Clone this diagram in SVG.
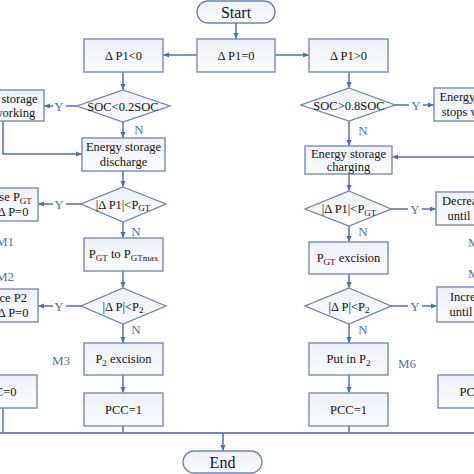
<svg xmlns="http://www.w3.org/2000/svg" width="474" height="474" viewBox="0 0 474 474">
<defs>
<linearGradient id="g" x1="0" y1="0" x2="0" y2="1">
<stop offset="0" stop-color="#eef1f8"/>
<stop offset="1" stop-color="#fbfcfe"/>
</linearGradient>
<marker id="a" viewBox="0 0 8 8" refX="7.5" refY="4" markerWidth="6" markerHeight="6" orient="auto" markerUnits="userSpaceOnUse">
<path d="M0,0.5 L8,4 L0,7.5 z" fill="#4f6fb3"/>
</marker>
<style>
.b{fill:url(#g);stroke:#6f82b3;stroke-width:1.3}
.t{font-family:"Liberation Serif","Times New Roman",serif;font-size:12.5px;fill:#151515;text-anchor:middle}
.big{font-size:16px}
.l{font-family:"Liberation Serif","Times New Roman",serif;font-size:13px;fill:#4f72b8;text-anchor:middle}
.c{stroke:#4f6fb3;stroke-width:1.5;fill:none}
.bus{stroke:#6c87bd;stroke-width:2;fill:none}
</style>
</defs>
<rect width="474" height="474" fill="#fff"/>
<g id="connectors">
<line class="c" x1="236" y1="23" x2="236" y2="38.5" marker-end="url(#a)"/>
<line class="c" x1="197" y1="55" x2="163.5" y2="55" marker-end="url(#a)"/>
<line class="c" x1="275" y1="55" x2="308.5" y2="55" marker-end="url(#a)"/>
<line class="c" x1="123" y1="72" x2="123" y2="89.5" marker-end="url(#a)"/>
<line class="c" x1="349" y1="72" x2="349" y2="87.5" marker-end="url(#a)"/>
<polyline class="c" points="77,106 66,106"/>
<line class="c" x1="53" y1="106" x2="44.5" y2="106" marker-end="url(#a)"/>
<path class="c" d="M3,121 V154 H81.5" marker-end="url(#a)"/>
<line class="c" x1="123" y1="122" x2="123" y2="137.5" marker-end="url(#a)"/>
<line class="c" x1="123" y1="171" x2="123" y2="186.5" marker-end="url(#a)"/>
<line class="c" x1="81" y1="204" x2="66" y2="204"/>
<line class="c" x1="53" y1="204" x2="38.5" y2="204" marker-end="url(#a)"/>
<line class="c" x1="123" y1="222" x2="123" y2="237.5" marker-end="url(#a)"/>
<line class="c" x1="123" y1="271" x2="123" y2="287.5" marker-end="url(#a)"/>
<line class="c" x1="81" y1="306" x2="66" y2="306"/>
<line class="c" x1="53" y1="306" x2="38.5" y2="306" marker-end="url(#a)"/>
<line class="c" x1="123" y1="324" x2="123" y2="342.5" marker-end="url(#a)"/>
<line class="c" x1="123" y1="375" x2="123" y2="392.5" marker-end="url(#a)"/>
<line class="c" x1="123" y1="426" x2="123" y2="433"/>
<line class="c" x1="3" y1="408" x2="3" y2="433"/>
<line class="c" x1="395" y1="105" x2="409" y2="105"/>
<line class="c" x1="423" y1="105" x2="433.5" y2="105" marker-end="url(#a)"/>
<path class="c" d="M500,121 V157 H392.5" marker-end="url(#a)"/>
<line class="c" x1="349" y1="121" x2="349" y2="145.5" marker-end="url(#a)"/>
<line class="c" x1="349" y1="174" x2="349" y2="190.5" marker-end="url(#a)"/>
<line class="c" x1="391" y1="209" x2="408" y2="209"/>
<line class="c" x1="422" y1="209" x2="435.5" y2="209" marker-end="url(#a)"/>
<line class="c" x1="349" y1="226" x2="349" y2="241.5" marker-end="url(#a)"/>
<line class="c" x1="349" y1="274" x2="349" y2="287.5" marker-end="url(#a)"/>
<line class="c" x1="391" y1="306" x2="408" y2="306"/>
<line class="c" x1="422" y1="306" x2="436.5" y2="306" marker-end="url(#a)"/>
<line class="c" x1="349" y1="324" x2="349" y2="342.5" marker-end="url(#a)"/>
<line class="c" x1="349" y1="375" x2="349" y2="392.5" marker-end="url(#a)"/>
<line class="c" x1="349" y1="426" x2="349" y2="433"/>
<line class="bus" x1="0" y1="433" x2="474" y2="433"/>
<line class="c" x1="223" y1="433" x2="223" y2="450.5" marker-end="url(#a)"/>
<text class="l" x="59" y="110.5">Y</text>
<text class="l" x="139" y="134">N</text>
<text class="l" x="59" y="208.5">Y</text>
<text class="l" x="136" y="236">N</text>
<text class="l" x="59" y="310.5">Y</text>
<text class="l" x="136" y="334">N</text>
<text class="l" x="416" y="109.5">Y</text>
<text class="l" x="363" y="135">N</text>
<text class="l" x="415" y="213.5">Y</text>
<text class="l" x="363" y="236">N</text>
<text class="l" x="415" y="310.5">Y</text>
<text class="l" x="363" y="334">N</text>
</g>
<g id="start"><rect class="b" x="197" y="1" width="78" height="22" rx="11"/><text class="t big" x="236" y="18">Start</text></g>
<g id="dp1eq0"><rect class="b" x="197" y="39" width="78" height="33"/><text class="t" x="236" y="60">Δ P1=0</text></g>
<g id="dp1lt0"><rect class="b" x="84" y="39" width="79" height="33"/><text class="t" x="123.5" y="60">Δ P1&lt;0</text></g>
<g id="dp1gt0"><rect class="b" x="309" y="39" width="79" height="33"/><text class="t" x="348.5" y="60">Δ P1&gt;0</text></g>
<g id="soc-low"><polygon class="b" points="123,90 170,106 123,122 77,106"/><text class="t" x="123" y="110.5">SOC&lt;0.2SOC</text></g>
<g id="stop-left"><rect class="b" x="-44" y="90" width="88" height="31"/><text class="t" x="0" y="103">Energy storage</text><text class="t" x="0" y="117">stops working</text></g>
<g id="discharge"><rect class="b" x="82" y="138" width="83" height="33"/><text class="t" x="123.5" y="151">Energy storage</text><text class="t" x="123.5" y="166">discharge</text></g>
<g id="dec-left1"><polygon class="b" points="123,187 166,204 123,222 81,204"/><text class="t" x="123" y="208.5">|Δ P1|&lt;P<tspan font-size="9" dy="2.5">GT</tspan></text></g>
<g id="inc-pgt"><rect class="b" x="-42" y="188" width="80" height="33"/><text class="t" x="0" y="201">Increase P<tspan font-size="9" dy="2.5">GT</tspan></text><text class="t" x="0" y="216">until Δ P=0</text></g>
<g id="pgt-max"><rect class="b" x="84" y="238" width="79" height="33"/><text class="t" x="123.5" y="258">P<tspan font-size="9" dy="2.5">GT</tspan><tspan dy="-2.5"> to P</tspan><tspan font-size="9" dy="2.5">GTmax</tspan></text></g>
<g id="dec-left2"><polygon class="b" points="123,288 166,306 123,324 81,306"/><text class="t" x="123" y="310.5">|Δ P|&lt;P<tspan font-size="9" dy="2.5">2</tspan></text></g>
<g id="reduce-p2"><rect class="b" x="-42" y="289" width="80" height="33"/><text class="t" x="0" y="302">Reduce P2</text><text class="t" x="0" y="317">until Δ P=0</text></g>
<g id="p2-excision"><rect class="b" x="84" y="343" width="79" height="32"/><text class="t" x="123.5" y="363">P<tspan font-size="9" dy="2.5">2</tspan><tspan dy="-2.5"> excision</tspan></text></g>
<g id="pcc1-left"><rect class="b" x="84" y="393" width="79" height="33"/><text class="t" x="123.5" y="414">PCC=1</text></g>
<g id="pcc0-left"><rect class="b" x="-41" y="375" width="78" height="33"/><text class="t" x="-2" y="396">PCC=0</text></g>
<g id="soc-high"><polygon class="b" points="349,88 395,105 349,121 301,105"/><text class="t" x="349" y="109.5">SOC&gt;0.8SOC</text></g>
<g id="stop-right"><rect class="b" x="434" y="88" width="86" height="33"/><text class="t" x="477" y="101">Energy storage</text><text class="t" x="477" y="116">stops working</text></g>
<g id="charging"><rect class="b" x="305" y="146" width="87" height="28"/><text class="t" x="348.5" y="158">Energy storage</text><text class="t" x="348.5" y="171">charging</text></g>
<g id="dec-right1"><polygon class="b" points="349,191 391,209 349,226 305,209"/><text class="t" x="349" y="213">|Δ P1|&lt;P<tspan font-size="9" dy="2.5">GT</tspan></text></g>
<g id="decr-pgt"><rect class="b" x="436" y="192" width="84" height="33"/><text class="t" x="476" y="205">Decrease P<tspan font-size="9" dy="2.5">GT</tspan></text><text class="t" x="476" y="220">until Δ P=0</text></g>
<g id="pgt-excision"><rect class="b" x="309" y="242" width="79" height="32"/><text class="t" x="348.5" y="262">P<tspan font-size="9" dy="2.5">GT</tspan><tspan dy="-2.5"> excision</tspan></text></g>
<g id="dec-right2"><polygon class="b" points="349,288 391,306 349,324 305,306"/><text class="t" x="349" y="310.5">|Δ P|&lt;P<tspan font-size="9" dy="2.5">2</tspan></text></g>
<g id="incr-p2"><rect class="b" x="437" y="287" width="84" height="35"/><text class="t" x="478" y="301">Increase P<tspan font-size="9" dy="2.5">2</tspan></text><text class="t" x="478" y="316">until Δ P=0</text></g>
<g id="put-p2"><rect class="b" x="309" y="343" width="79" height="32"/><text class="t" x="348.5" y="363">Put in P<tspan font-size="9" dy="2.5">2</tspan></text></g>
<g id="pcc1-right"><rect class="b" x="309" y="393" width="79" height="33"/><text class="t" x="348.5" y="414">PCC=1</text></g>
<g id="pcc0-right"><rect class="b" x="438" y="375" width="80" height="33"/><text class="t" x="478" y="396">PCC=0</text></g>
<g id="end"><rect class="b" x="183" y="451" width="79" height="22" rx="11"/><text class="t big" x="222.5" y="467.5">End</text></g>
<g id="labels">
<text class="l" x="14" y="246" text-anchor="end" style="text-anchor:end">M1</text>
<text class="l" x="14" y="281" style="text-anchor:end">M2</text>
<text class="l" x="61" y="365">M3</text>
<text class="l" x="468" y="247" style="text-anchor:start">M4</text>
<text class="l" x="468" y="278" style="text-anchor:start">M5</text>
<text class="l" x="407" y="368">M6</text>
</g>
</svg>
